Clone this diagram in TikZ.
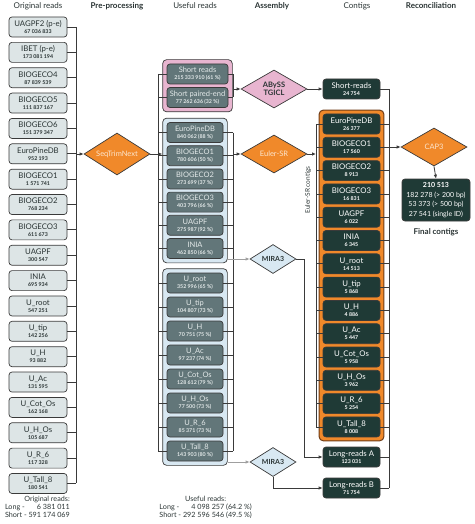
\documentclass[tikz,border=0pt]{standalone}
\usepackage{fontspec}
\setmainfont{Lato}
\usetikzlibrary{shapes,arrows.meta,calc,fit}
\pgfdeclarelayer{background}
\pgfsetlayers{background,main}

\definecolor{lnc}{HTML}{3A3A3A}
\definecolor{origfill}{HTML}{DDE5E6}
\definecolor{txtdark}{HTML}{2A3434}
\definecolor{usefill}{HTML}{627679}
\definecolor{usetxt}{HTML}{E4EAEA}
\definecolor{ctgfill}{HTML}{1F3A36}
\definecolor{pinkfill}{HTML}{E8B5D0}
\definecolor{bluefill}{HTML}{D8E8F2}
\definecolor{orfill}{HTML}{F0892A}
\definecolor{ordark}{HTML}{6E3B16}
\definecolor{ortxt}{HTML}{FCE6CF}

\newcommand{\rnum}[1]{{\fontsize{5.3}{5.3}\selectfont\bfseries #1}}

\begin{document}
\begin{tikzpicture}[x=1pt,y=-1pt,
    wire/.style={draw=lnc,line width=0.8pt},
    arr/.style={wire,-{Latex[length=4pt,width=3.5pt]}},
    garr/.style={draw=gray!75,line width=0.8pt,-{Latex[length=4pt,width=3.5pt]}},
    rdbox/.style={rounded corners=3pt,draw=lnc,line width=0.7pt,minimum height=20pt,inner sep=0pt,align=center,font=\fontsize{7.5}{7.5}\selectfont},
    origbox/.style={rdbox,fill=origfill,text=txtdark,minimum width=58pt,font=\fontsize{7.8}{7.5}\selectfont},
    usebox/.style={rdbox,fill=usefill,text=usetxt,minimum width=56pt},
    ctgbox/.style={rdbox,fill=ctgfill,text=white,minimum width=57pt,font=\fontsize{7.8}{7.5}\selectfont},
    grp/.style={rounded corners=4pt,draw=lnc,line width=0.7pt,inner sep=4pt},
    dia/.style={diamond,aspect=1.7,draw=lnc,line width=0.7pt,inner sep=0pt,align=center,font=\fontsize{7.5}{8}\selectfont},
    head/.style={font=\fontsize{8}{9}\selectfont,text=txtdark},
    sumtxt/.style={font=\fontsize{7.2}{9.3}\selectfont,text=txtdark,inner sep=0pt}]

  \useasboundingbox (0,0) rectangle (474,524);
  \coordinate (obus) at (76,0);
  \coordinate (ulbus) at (158,0);
  \coordinate (urbus) at (233,0);
  \coordinate (clbus) at (316,0);
  \coordinate (crbus) at (389,0);
  \coordinate (mbend) at (304,0);

  % column titles
  \node[head] (t1) at (38,6) {Original reads};
  \node[head,font=\fontsize{8}{9}\selectfont\bfseries] (t2) at (117,6) {Pre-processing};
  \node[head] (t3) at (195,6) {Useful reads};
  \node[head,font=\fontsize{8}{9}\selectfont\bfseries] (t4) at (272,6) {Assembly};
  \node[head] (t5) at (357,6) {Contigs};
  \node[head,font=\fontsize{8}{9}\selectfont\bfseries] (t6) at (431,6) {Reconciliation};

  % original reads
  \foreach \nm/\cnt [count=\i] in {UAGPF2 (p-e)/67 036 833,IBET (p-e)/173 081 194,BIOGECO4/87 839 539,BIOGECO5/111 837 167,BIOGECO6/151 379 347,EuroPineDB/952 193,BIOGECO1/1 571 741,BIOGECO2/768 234,BIOGECO3/611 673,UAGPF/300 547,INIA/695 934,U\_root/547 251,U\_tip/142 256,U\_H/93 882,U\_Ac/131 595,U\_Cot\_Os/162 168,U\_H\_Os/105 687,U\_R\_6/117 328,U\_Tall\_8/180 541}
    \node[origbox] (or\i) at (38,{27+(\i-1)*25.36}) {\nm\\[-0.5pt]\rnum{\cnt}};
  \foreach \i in {1,...,19} \draw[wire] (or\i.east) -- (obus |- or\i);
  \draw[wire] (obus |- or1) -- (obus |- or19);

  % useful reads
  \node[usebox,minimum width=61pt] (u1) at (197.5,74) {Short reads\\[-0.5pt]\rnum{215 333 910 (61 \%)}};
  \node[usebox,minimum width=61pt] (u2) at (197.5,97.5) {Short paired-end\\[-0.5pt]\rnum{77 262 636 (32 \%)}};
  \foreach \nm/\cnt [count=\i from 3] in {EuroPineDB/840 062 (88 \%),BIOGECO1/780 606 (50 \%),BIOGECO2/273 699 (37 \%),BIOGECO3/403 796 (66 \%),UAGPF/275 987 (92 \%),INIA/462 850 (66 \%)}
    \node[usebox] (u\i) at (195,{132.5+(\i-3)*23.2}) {\nm\\[-0.5pt]\rnum{\cnt}};
  \foreach \nm/\cnt [count=\i from 9] in {U\_root/352 996 (65 \%),U\_tip/104 807 (73 \%),U\_H/70 751 (75 \%),U\_Ac/97 237 (74 \%),U\_Cot\_Os/128 612 (79 \%),U\_H\_Os/77 500 (73 \%),U\_R\_6/85 371 (73 \%),U\_Tall\_8/143 903 (80 \%)}
    \node[usebox] (u\i) at (195,{283+(\i-9)*24}) {\nm\\[-0.5pt]\rnum{\cnt}};
  \foreach \i in {1,...,16} {
    \draw[wire] (ulbus |- u\i) -- (u\i.west);
    \draw[wire] (u\i.east) -- (urbus |- u\i);
  }
  \draw[wire] (ulbus |- u1) -- (ulbus |- u16);
  \draw[wire] (urbus |- u1) -- (urbus |- u2);
  \draw[wire] (urbus |- u3) -- (urbus |- u16);

  % contigs
  \node[ctgbox] (c1) at (351.5,89) {Short-reads\\[-0.5pt]\rnum{24 754}};
  \foreach \nm/\cnt [count=\i from 2] in {EuroPineDB/26 377,BIOGECO1/17 560,BIOGECO2/8 913,BIOGECO3/16 831,UAGPF/6 022,INIA/6 345,U\_root/14 513,U\_tip/5 868,U\_H/4 886,U\_Ac/5 447,U\_Cot\_Os/5 958,U\_H\_Os/3 962,U\_R\_6/5 254,U\_Tall\_8/8 008}
    \node[ctgbox] (c\i) at (351.5,{124+(\i-2)*23.3}) {\nm\\[-0.5pt]\rnum{\cnt}};
  \node[ctgbox] (cA) at (351.5,457) {Long-reads A\\[-0.5pt]\rnum{123 031}};
  \node[ctgbox] (cB) at (351.5,488) {Long-reads B\\[-0.5pt]\rnum{71 754}};
  \foreach \i in {2,...,15} \draw[wire] (clbus |- c\i) -- (c\i.west);
  \draw[wire] (clbus |- c2) -- (clbus |- c15);
  \foreach \i in {1,...,15,A,B} \draw[wire] (c\i.east) -- (crbus |- c\i);
  \draw[wire] (crbus |- c1) -- (crbus |- cB);
  \node[rotate=90,font=\fontsize{6.5}{7}\selectfont,text=txtdark] (elab) at (308,190) {Euler-SR contigs};

  % groups
  \begin{pgfonlayer}{background}
    \node[grp,fill=pinkfill,fit=(u1)(u2)] (gpink) {};
    \node[grp,fill=bluefill,fit=(u3)(u8)] (gblue1) {};
    \node[grp,fill=bluefill,fit=(u9)(u16)] (gblue2) {};
    \node[grp,fill=orfill,draw=ordark,line width=1pt,inner sep=3.5pt,fit=(c2)(c15)] (gorange) {};
  \end{pgfonlayer}

  % tools
  \node[dia,fill=orfill,text=ortxt,minimum width=66pt,minimum height=42pt] (seq) at (117,154) {SeqTrimNext};
  \node[dia,fill=pinkfill,text=txtdark,font=\fontsize{7.5}{8.5}\selectfont\bfseries,minimum width=66pt,minimum height=38pt] (abyss) at (274,89) {ABySS\\TGICL};
  \node[dia,fill=orfill,text=ortxt,minimum width=66pt,minimum height=38pt] (euler) at (274,154) {Euler-SR};
  \node[dia,fill=bluefill,text=txtdark,font=\fontsize{7}{8}\selectfont\bfseries,minimum width=46pt,minimum height=29pt] (mira1) at (273,259) {MIRA3};
  \node[dia,fill=bluefill,text=txtdark,font=\fontsize{7}{8}\selectfont\bfseries,minimum width=46pt,minimum height=29pt] (mira2) at (273,462) {MIRA3};
  \node[dia,fill=orfill,text=ortxt,minimum width=66pt,minimum height=38pt] (cap) at (434,147) {CAP3};

  \draw[arr] (obus |- seq) -- (seq.west);
  \draw[arr] (seq.east) -- (gblue1.west |- seq);
  \draw[arr] (urbus |- abyss) -- (abyss.west);
  \draw[arr] (abyss.east) -- (c1.west);
  \draw[arr] (urbus |- euler) -- (euler.west);
  \draw[arr] (euler.east) -- (clbus |- euler);
  \draw[garr] (gblue1.east |- mira1) -- (mira1.west);
  \draw[garr] (gblue2.east |- mira2) -- (mira2.west);
  \draw[arr] (mira1.east) -- (mbend |- mira1) |- (cA.west);
  \draw[arr] (mira2.south) |- (cB.west);
  \draw[arr] (crbus |- cap) -- (cap.west);

  % final contigs
  \node[rdbox,fill=ctgfill,text=white,minimum width=68pt,minimum height=42pt,font=\fontsize{7}{9.5}\selectfont] (fin) at (436,200) {{\bfseries 210 513}\\182 278 (> 200 bp)\\53 373 (> 500 bp)\\27 541 (single ID)};
  \draw[arr] (cap.south) -- (fin.north);
  \node[font=\fontsize{8}{9}\selectfont\bfseries,text=txtdark] (flab) at (436,232) {Final contigs};

  % totals
  \node[sumtxt,anchor=north east] (osum) at (70,495) {\renewcommand{\arraystretch}{0.9}\begin{tabular}{@{}l@{\ }r@{}}\multicolumn{2}{@{}r@{}}{Original reads:}\\Long - & 6 381 011\\Short - & 591 174 069\end{tabular}};
  \node[sumtxt,anchor=north east] (usum) at (252,495) {\renewcommand{\arraystretch}{0.9}\begin{tabular}{@{}l@{\ }r@{\ }l@{}}\multicolumn{2}{@{}r@{}}{Useful reads:}\\Long - & 4 098 257 & (64.2 \%)\\Short - & 292 596 546 & (49.5 \%)\end{tabular}};
\end{tikzpicture}
\end{document}
